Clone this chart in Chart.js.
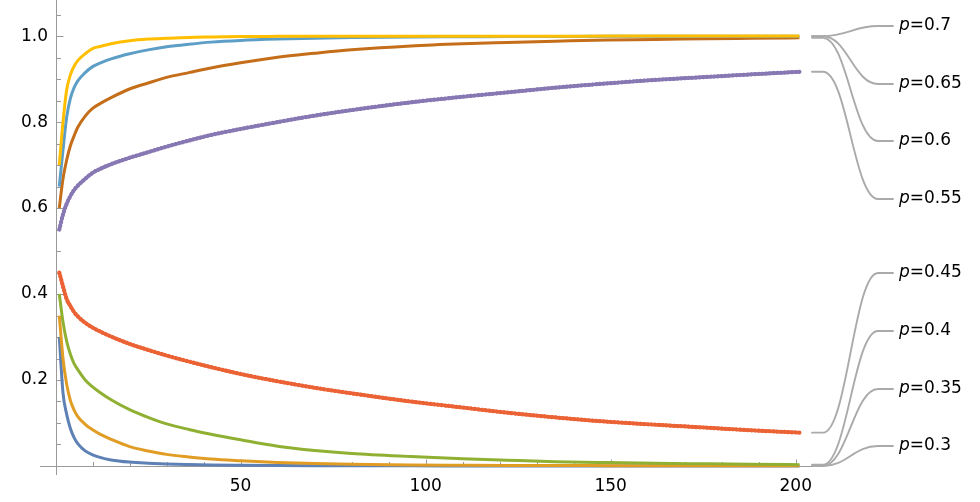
<!DOCTYPE html>
<html>
<head>
<meta charset="utf-8">
<script src="https://cdn.jsdelivr.net/npm/chart.js@4.4.1/dist/chart.umd.min.js"></script>
<style>
  html, body { margin: 0; padding: 0; background: #fff; }
  #wrap { width: 980px; height: 502px; }
</style>
</head>
<body>
<div id="wrap"><canvas id="chart" width="980" height="502"></canvas></div>
<script>
// Values (n along the x axis)
const nValues = [1, 2, 3, 4, 5, 6, 8, 10, 12, 15, 20, 25, 30, 36, 42, 50, 60, 70, 80, 96, 110, 122, 135, 149, 162, 176, 188, 201];

const p70 = [0.700, 0.800, 0.875, 0.910, 0.930, 0.943, 0.959, 0.971, 0.976, 0.982, 0.989, 0.993, 0.995, 0.997, 0.998, 0.999, 0.9994, 0.9996, 0.9997, 0.9998, 0.9999, 0.9999, 0.9999, 1.0, 1.0, 1.0, 1.0, 1.0];
const p65 = [0.650, 0.735, 0.812, 0.855, 0.880, 0.896, 0.915, 0.929, 0.937, 0.947, 0.959, 0.968, 0.975, 0.981, 0.986, 0.990, 0.993, 0.995, 0.9965, 0.998, 0.9985, 0.999, 0.9993, 0.9995, 0.9996, 0.9997, 0.9998, 0.9998];
const p60 = [0.600, 0.668, 0.712, 0.745, 0.768, 0.788, 0.814, 0.832, 0.843, 0.857, 0.877, 0.891, 0.904, 0.915, 0.926, 0.938, 0.951, 0.960, 0.968, 0.977, 0.982, 0.985, 0.988, 0.991, 0.992, 0.994, 0.995, 0.996];
const p55 = [0.550, 0.585, 0.610, 0.628, 0.642, 0.652, 0.668, 0.682, 0.691, 0.702, 0.717, 0.730, 0.743, 0.757, 0.770, 0.784, 0.800, 0.815, 0.828, 0.846, 0.859, 0.869, 0.880, 0.890, 0.898, 0.905, 0.911, 0.917];
const p45 = [0.450, 0.418, 0.388, 0.372, 0.358, 0.348, 0.333, 0.322, 0.313, 0.301, 0.284, 0.270, 0.257, 0.243, 0.230, 0.214, 0.197, 0.182, 0.169, 0.150, 0.136, 0.124, 0.113, 0.103, 0.096, 0.089, 0.083, 0.0775];
const p40 = [0.400, 0.335, 0.290, 0.260, 0.238, 0.224, 0.200, 0.184, 0.171, 0.154, 0.131, 0.113, 0.098, 0.085, 0.074, 0.061, 0.046, 0.036, 0.029, 0.022, 0.017, 0.0135, 0.010, 0.0078, 0.0062, 0.005, 0.004, 0.003];
const p35 = [0.350, 0.250, 0.190, 0.152, 0.130, 0.115, 0.097, 0.084, 0.074, 0.062, 0.045, 0.035, 0.027, 0.021, 0.016, 0.012, 0.008, 0.0055, 0.004, 0.0025, 0.0018, 0.0013, 0.001, 0.0008, 0.0006, 0.0005, 0.0004, 0.0003];
const p30 = [0.300, 0.170, 0.120, 0.087, 0.066, 0.052, 0.035, 0.026, 0.020, 0.014, 0.009, 0.0065, 0.0048, 0.0035, 0.0025, 0.0018, 0.0012, 0.0008, 0.0005, 0.0003, 0.0002, 0.0002, 0.0001, 0.0001, 0.0001, 0, 0, 0];

// Series in drawing order (first one ends up on top)
const seriesValues = [p70, p65, p60, p55, p45, p40, p35, p30];
const seriesNames = ['0.7', '0.65', '0.6', '0.55', '0.45', '0.4', '0.35', '0.3'];
const seriesColors = ['#FFBF00', '#5D9EC7', '#C56E1A', '#8778B3', '#EB6235', '#8FB032', '#E19C24', '#5E81B5'];
const beaded = [false, false, false, true, true, false, false, false];

// Label rows on the right (pixel y of each callout text)
const labelRows = [26, 84, 141, 199, 273, 331, 389, 446];

const FONT = '"DejaVu Sans", Verdana, sans-serif';
const AXIS_GRAY = '#9a9a9a';
const X_AXIS_START = -4.2; // x axis line runs a little left of the y axis

// Axis lines through the origin, with inward ticks like Mathematica
const axesPlugin = {
  id: 'mmaAxes',
  beforeDatasetsDraw(chart) {
    const { ctx, chartArea, scales: { x, y } } = chart;
    const x0 = Math.round(x.getPixelForValue(0)) + 0.5;
    const y0 = Math.round(y.getPixelForValue(0)) + 0.5;
    ctx.save();
    ctx.strokeStyle = AXIS_GRAY;
    ctx.lineWidth = 1;
    ctx.beginPath();
    ctx.moveTo(x.getPixelForValue(X_AXIS_START), y0);
    ctx.lineTo(chartArea.right, y0);
    ctx.moveTo(x0, chartArea.top);
    ctx.lineTo(x0, chartArea.bottom);
    x.ticks.forEach(t => {
      if (t.value <= 0) return;
      const px = Math.round(x.getPixelForValue(t.value)) + 0.5;
      const len = t.value % 50 === 0 ? 7 : 4.5;
      ctx.moveTo(px, y0);
      ctx.lineTo(px, y0 - len);
    });
    y.ticks.forEach(t => {
      if (t.value <= 0) return;
      const py = Math.round(y.getPixelForValue(t.value)) + 0.5;
      const major = Math.round(t.value * 100) % 20 === 0;
      ctx.moveTo(x0, py);
      ctx.lineTo(x0 + (major ? 7 : 4.5), py);
    });
    ctx.stroke();
    ctx.restore();
  }
};

// Beaded texture on the p=0.55 and p=0.45 curves (re-strokes the line element's own path)
const beadPlugin = {
  id: 'beads',
  afterDatasetsDraw(chart) {
    const { ctx, chartArea } = chart;
    ctx.save();
    ctx.beginPath();
    ctx.rect(chartArea.left, chartArea.top, chartArea.right - chartArea.left, chartArea.bottom - chartArea.top);
    ctx.clip();
    chart.data.datasets.forEach((ds, i) => {
      if (!beaded[i]) return;
      const line = chart.getDatasetMeta(i).dataset;
      ctx.beginPath();
      line.path(ctx);
      ctx.strokeStyle = ds.borderColor;
      ctx.lineWidth = 4.2;
      ctx.lineCap = 'round';
      ctx.setLineDash([0.6, 3.1]);
      ctx.stroke();
    });
    ctx.restore();
  }
};

// Leader lines and "p=..." labels to the right of the plot
const calloutPlugin = {
  id: 'callouts',
  afterDraw(chart) {
    const { ctx, chartArea, scales: { y } } = chart;
    ctx.save();
    ctx.strokeStyle = '#aaaaaa';
    ctx.lineWidth = 1.9;
    ctx.lineCap = 'round';
    chart.data.datasets.forEach((ds, i) => {
      const last = ds.data[ds.data.length - 1];
      const y0 = y.getPixelForValue(last.y);
      const y1 = labelRows[i];
      const xs = chartArea.right;
      const xa = xs + 11;
      const xb = xs + 66;
      const xe = xs + 81;
      ctx.beginPath();
      ctx.moveTo(xs, y0);
      ctx.lineTo(xa, y0);
      ctx.bezierCurveTo(xa + 24, y0, xb - 24, y1, xb, y1);
      ctx.lineTo(xe, y1);
      ctx.stroke();

      ctx.fillStyle = '#000';
      ctx.textBaseline = 'middle';
      ctx.textAlign = 'left';
      ctx.font = 'italic 17px ' + FONT;
      const tx = xs + 87;
      ctx.fillText('p', tx, y1);
      const w = ctx.measureText('p').width;
      ctx.font = '17px ' + FONT;
      ctx.fillText('=' + seriesNames[i], tx + w, y1);
    });
    ctx.restore();
  }
};

const datasets = seriesValues.map((vals, i) => ({
  label: 'p=' + seriesNames[i],
  data: vals.map((v, k) => ({ x: nValues[k], y: v })),
  borderColor: seriesColors[i],
  backgroundColor: seriesColors[i],
  borderWidth: beaded[i] ? 3.2 : 3,
  pointRadius: 0,
  cubicInterpolationMode: 'monotone',
  fill: false
}));

new Chart(document.getElementById('chart'), {
  type: 'line',
  data: { datasets },
  options: {
    responsive: false,
    animation: false,
    devicePixelRatio: 1,
    layout: { padding: { left: 0, right: 168, top: 0, bottom: 0 } },
    plugins: {
      legend: { display: false },
      tooltip: { enabled: false }
    },
    scales: {
      x: {
        type: 'linear',
        min: -1.78,
        max: 204.4,
        grid: { display: false, drawTicks: false },
        border: { display: false },
        afterFit: s => {
          s.height = 27;
          s.paddingLeft = 0;
          s.paddingRight = 0;
        },
        ticks: {
          stepSize: 10,
          includeBounds: false,
          autoSkip: false,
          maxRotation: 0,
          padding: 1,
          color: '#000',
          font: { family: FONT, size: 17 },
          callback: v => (v > 0 && v % 50 === 0) ? String(v) : ''
        }
      },
      y: {
        type: 'linear',
        min: -0.021,
        max: 1.084,
        grid: { display: false, drawTicks: false },
        border: { display: false },
        afterFit: s => {
          s.width = 49;
          s.paddingTop = 0;
          s.paddingBottom = 0;
        },
        ticks: {
          stepSize: 0.05,
          includeBounds: false,
          autoSkip: false,
          padding: 1,
          color: '#000',
          font: { family: FONT, size: 17 },
          callback: v => {
            const r = Math.round(v * 100);
            return (r > 0 && r % 20 === 0) ? (r / 100).toFixed(1) : '';
          }
        }
      }
    }
  },
  plugins: [axesPlugin, beadPlugin, calloutPlugin]
});
</script>
</body>
</html>
